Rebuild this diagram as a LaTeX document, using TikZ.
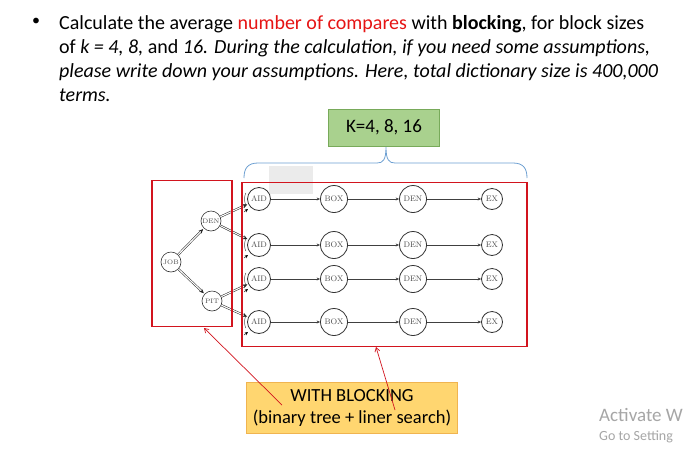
\documentclass[tikz,border=0pt]{standalone}
\usepackage{fontspec}
\setmainfont{Carlito}
\newfontfamily\lmfont{Latin Modern Roman}
\usetikzlibrary{arrows.meta}
\definecolor{boxred}{RGB}{210,20,30}
\definecolor{txtred}{RGB}{230,20,20}
\definecolor{gfill}{RGB}{169,209,142}
\definecolor{gdraw}{RGB}{120,170,90}
\definecolor{ofill}{RGB}{255,214,112}
\definecolor{odraw}{RGB}{240,180,80}
\definecolor{bracec}{RGB}{110,160,210}
\tikzset{
  st/.style={circle, draw=black!80, line width=0.8pt, inner sep=0pt, text=black!70,
    font=\lmfont\fontsize{8}{8}\selectfont},
  aid/.style={st, minimum size=23pt},
  big/.style={st, minimum size=27pt},
  ex/.style={st, minimum size=21pt},
  tree/.style={st, minimum size=20pt, line width=0.6pt, font=\lmfont\fontsize{6.5}{6.5}\selectfont},
  rowarr/.style={-{Stealth[length=3.5pt,width=3pt]}, draw=black!75, line width=0.8pt},
  dbl/.style={double, double distance=1.1pt, line width=0.5pt, draw=black!85,
    -{Stealth[length=4.5pt,width=4pt]}, shorten >=1pt},
  redbox/.style={draw=boxred, line width=1.1pt},
  redarr/.style={draw=boxred, line width=0.7pt, -{Straight Barb[length=4pt,width=5pt]}},
  line/.style={anchor=base west, inner sep=0pt, font=\fontsize{20}{24}\selectfont}
}
\begin{document}
\begin{tikzpicture}[x=1pt,y=-1pt]
\useasboundingbox (0,0) rectangle (686,448);
\fill[white] (0,0) rectangle (686,448);

% text
\node[inner sep=0pt, font=\fontsize{16}{16}\selectfont] (bul) at (36,22) {•};
\node[line] (l1) at (59,29) {Calculate the average \textcolor{txtred}{number of compares} with \textbf{blocking}, for block sizes};
\node[line] (l2) at (59,53) {of \textit{k = 4, 8,} and \textit{16. During the calculation, if you need some assumptions,}};
\node[line] (l3) at (59,77) {\textit{please write down your assumptions. Here, total dictionary size is 400,000}};
\node[line] (l4) at (59,101) {\textit{terms.}};

% K box
\node[draw=gdraw, fill=gfill, line width=0.6pt, minimum width=111pt, minimum height=37pt,
  inner sep=0pt, font=\fontsize{19}{19}\selectfont] (kbox) at (384,127.5) {K=4, 8, 16};

% brace
\draw[bracec, line width=0.8pt] (244,178) .. controls (244,168) and (248,163) .. (258,163)
  -- (377,163) .. controls (383,163) and (386,160) .. (386,147)
  .. controls (386,160) and (389,163) .. (395,163) -- (513,163)
  .. controls (523,163) and (527,168) .. (527,178);

% gray patch
\fill[black!8] (269,166) rectangle (313,194);

\coordinate (lrb) at (204,328);
\coordinate (rrb) at (376,347);

% rows
\foreach \i/\y in {1/199,2/245,3/279,4/322}{
  \node[aid] (a\i) at (259,\y) {AID};
  \node[big] (b\i) at (334,\y) {BOX};
  \node[big] (d\i) at (413,\y) {DEN};
  \node[ex]  (e\i) at (492,\y) {EX};
  \draw[rowarr] (a\i) -- (b\i);
  \draw[rowarr] (b\i) -- (d\i);
  \draw[rowarr] (d\i) -- (e\i);
  \draw[black!70, line width=0.5pt] (a\i.center) ++(155:14.5) arc[start angle=155, end angle=205, radius=14.5];
  \draw[-{Stealth[length=3.5pt,width=3pt]}, line width=0.4pt] ([shift={(-15,13)}]a\i.center) -- ([shift={(-11,10)}]a\i.center);
}

% tree
\node[tree] (job) at (171,262) {JOB};
\node[tree] (tden) at (211,221) {DEN};
\node[tree] (pit) at (212,301) {PIT};
\draw[dbl] (job) -- (tden);
\draw[dbl] (job) -- (pit);
\draw[dbl] (tden) -- (a1);
\draw[dbl] (tden) -- (a2);
\draw[dbl] (pit) -- (a3);
\draw[dbl] (pit) -- (a4);

% red rectangles
\draw[redbox] (152,180.5) -- (232,180.5) -- (232,326.5) -- (152,326.5) -- cycle;
\draw[redbox] (242,182.5) -- (527,182.5) -- (527,346.5) -- (242,346.5) -- cycle;

% orange box
\node[draw=odraw, fill=ofill, line width=0.6pt, minimum width=211pt, minimum height=51pt,
  inner sep=0pt, align=center, font=\fontsize{18.5}{22}\selectfont] (obox) at (352,407.5)
  {WITH BLOCKING\\(binary tree + liner search)};
\coordinate (o1) at (282,405);
\coordinate (o2) at (395,410);
\draw[redarr] (o1) -- (lrb);
\draw[redarr] (o2) -- (rrb);

% watermark
\node[anchor=west, inner sep=0pt, text=black!35, font=\fontsize{19}{19}\selectfont] (wm1) at (599,415) {Activate W};
\node[anchor=west, inner sep=0pt, text=black!35, font=\fontsize{14}{14}\selectfont] (wm2) at (599,437) {Go to Setting};
\end{tikzpicture}
\end{document}
